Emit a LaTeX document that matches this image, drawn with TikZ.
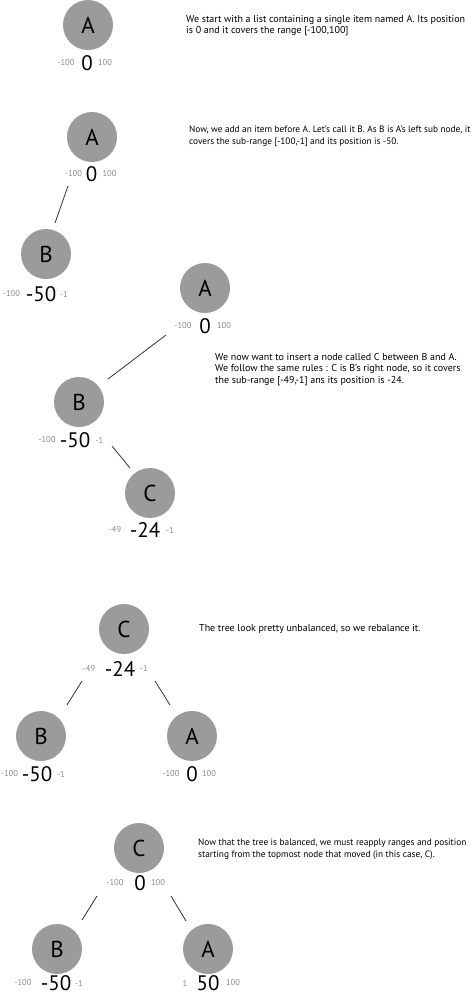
\documentclass[tikz,border=0pt]{standalone}
\usepackage{fontspec}
\setmainfont{PT Sans}
\definecolor{circgray}{HTML}{9B9B9B}
\definecolor{smallgray}{HTML}{8A8A8A}
\definecolor{linegray}{HTML}{333333}
\begin{document}
\begin{tikzpicture}[x=1pt,y=-1pt,
  treenode/.style={circle,fill=circgray,minimum size=50pt,inner sep=0pt,
    font=\fontsize{23}{23}\selectfont},
  bignum/.style={inner sep=0pt,font=\fontsize{21}{21}\selectfont},
  smallnum/.style={inner sep=0pt,text=smallgray,font=\fontsize{8.5}{8.5}\selectfont},
  note/.style={inner sep=0pt,anchor=north west,align=left,
    font=\fontsize{10}{11.5}\selectfont},
  narrownote/.style={note,font=\fontsize{9.3}{11.3}\selectfont},
  edge/.style={draw=linegray,line width=0.8pt}]
\useasboundingbox (0,0) rectangle (474,997);

% ---------- step 1
\node[treenode] (a1) at (88,25) {A};
\node[bignum] (a1p) at (87,63.5) {0};
\node[smallnum] (a1l) at (66,63) {-100};
\node[smallnum] (a1r) at (105,63) {100};
\node[note] (t1) at (186,15) {We start with a list containing a single item named A. Its position\\is 0 and it covers the range [-100,100]};

% ---------- step 2
\node[treenode] (a2) at (92,137) {A};
\node[bignum] (a2p) at (91.5,174) {0};
\node[smallnum] (a2l) at (73.5,173.5) {-100};
\node[smallnum] (a2r) at (109.5,173.5) {100};
\node[treenode] (b2) at (46,254) {B};
\node[bignum] (b2p) at (41,294.5) {-50};
\node[smallnum] (b2l) at (11.5,294) {-100};
\node[smallnum] (b2r) at (64,294) {-1};
\coordinate (e2s) at (68,186);
\coordinate (e2t) at (55,223);
\draw[edge] (e2s) -- (e2t);
\node[narrownote] (t2) at (189,126) {Now, we add an item before A. Let's call it B. As B is A's left sub node, it\\covers the sub-range [-100,-1] and its position is -50.};

% ---------- step 3
\node[treenode] (a3) at (205,288) {A};
\node[bignum] (a3p) at (205,326) {0};
\node[smallnum] (a3l) at (183,325.5) {-100};
\node[smallnum] (a3r) at (224,325.5) {100};
\node[treenode] (b3) at (79,402) {B};
\node[bignum] (b3p) at (75,440) {-50};
\node[smallnum] (b3l) at (47,440) {-100};
\node[smallnum] (b3r) at (99.5,440) {-1};
\node[treenode] (c3) at (150,493) {C};
\node[bignum] (c3p) at (145,530) {-24};
\node[smallnum] (c3l) at (115,530) {-49};
\node[smallnum] (c3r) at (170,530) {-1};
\coordinate (e3as) at (166,335);
\coordinate (e3at) at (108,379);
\coordinate (e3bs) at (112,446);
\coordinate (e3bt) at (130,468);
\draw[edge] (e3as) -- (e3at);
\draw[edge] (e3bs) -- (e3bt);
\node[note] (t3) at (215,353) {We now want to insert a node called C between B and A.\\We follow the same rules : C is B's right node, so it covers\\the sub-range [-49,-1] ans its position is -24.};

% ---------- step 4
\node[treenode] (c4) at (124,629) {C};
\node[bignum] (c4p) at (120,669) {-24};
\node[smallnum] (c4l) at (89,668.5) {-49};
\node[smallnum] (c4r) at (144,668.5) {-1};
\node[treenode] (b4) at (41,736) {B};
\node[bignum] (b4p) at (37,774) {-50};
\node[smallnum] (b4l) at (9.5,774) {-100};
\node[smallnum] (b4r) at (61,774) {-1};
\node[treenode] (a4) at (192,736) {A};
\node[bignum] (a4p) at (192,774) {0};
\node[smallnum] (a4l) at (171,774) {-100};
\node[smallnum] (a4r) at (209,774) {100};
\coordinate (e4as) at (82,681);
\coordinate (e4at) at (67,705);
\coordinate (e4bs) at (155,681);
\coordinate (e4bt) at (170,705);
\draw[edge] (e4as) -- (e4at);
\draw[edge] (e4bs) -- (e4bt);
\node[note] (t4) at (199,624) {The tree look pretty unbalanced, so we rebalance it.};

% ---------- step 5
\node[treenode] (c5) at (139,848) {C};
\node[bignum] (c5p) at (140,883) {0};
\node[smallnum] (c5l) at (115,882.5) {-100};
\node[smallnum] (c5r) at (158,882.5) {100};
\node[treenode] (b5) at (57,949) {B};
\node[bignum] (b5p) at (56,983) {-50};
\node[smallnum] (b5l) at (23,983) {-100};
\node[smallnum] (b5r) at (79,983) {-1};
\node[treenode] (a5) at (208,949) {A};
\node[bignum] (a5p) at (208,983) {50};
\node[smallnum] (a5l) at (185,983) {1};
\node[smallnum] (a5r) at (233,983) {100};
\coordinate (e5as) at (97,896);
\coordinate (e5at) at (82,920);
\coordinate (e5bs) at (171,896);
\coordinate (e5bt) at (186,921);
\draw[edge] (e5as) -- (e5at);
\draw[edge] (e5bs) -- (e5bt);
\node[narrownote] (t5) at (198,839) {Now that the tree is balanced, we must reapply ranges and position\\starting from the topmost node that moved (in this case, C).};
\end{tikzpicture}
\end{document}
